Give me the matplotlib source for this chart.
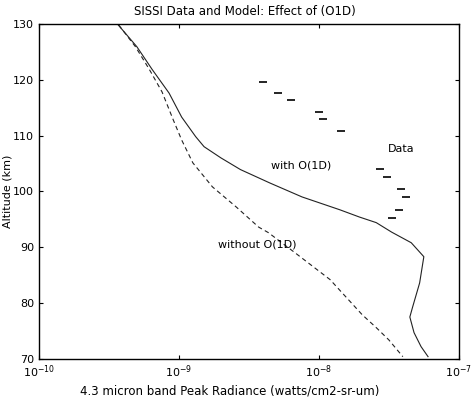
import numpy as np
import matplotlib
matplotlib.use("Agg")
import matplotlib.pyplot as plt

# model with O(1D): log10 radiance vs altitude (km)
with_log = [-9.44, -9.30, -9.19, -9.07, -8.98, -8.88, -8.82, -8.70, -8.56, -8.35,
            -8.12, -7.85, -7.71, -7.59, -7.48, -7.34, -7.25, -7.28, -7.33, -7.35,
            -7.32, -7.27, -7.22]
with_alt = [130.0, 125.9, 121.8, 117.6, 113.3, 109.8, 108.0, 106.0, 103.9, 101.5,
            99.0, 96.7, 95.4, 94.4, 92.7, 90.8, 88.3, 83.6, 79.3, 77.5,
            74.7, 72.2, 70.4]

# model without O(1D)
without_log = [-9.43, -9.31, -9.21, -9.12, -9.04, -8.98, -8.90, -8.76, -8.59, -8.43,
               -8.36, -8.17, -7.92, -7.69, -7.59, -7.50, -7.40]
without_alt = [129.8, 125.9, 121.8, 117.8, 112.8, 109.2, 105.1, 100.8, 97.2, 93.6,
               92.6, 89.0, 84.2, 77.9, 75.6, 73.4, 70.4]

# SISSI measurements
data_log = [-8.40, -8.29, -8.20, -8.00, -7.97, -7.84, -7.56, -7.51, -7.41, -7.38, -7.43, -7.48]
data_alt = [119.6, 117.6, 116.4, 114.2, 113.0, 110.8, 104.0, 102.6, 100.4, 99.0, 96.7, 95.3]

x_ticks = [1e-10, 1e-9, 1e-8, 1e-7]
x_ticklabels = ['$10^{-10}$', '$10^{-9}$', '$10^{-8}$', '$10^{-7}$']
y_ticks = [70, 80, 90, 100, 110, 120, 130]

plt.rcParams['font.family'] = ['DejaVu Sans']

fig = plt.figure(figsize=(4.74, 3.97), dpi=100)
ax = fig.add_axes([0.082, 0.096, 0.886, 0.844])

ax.plot(10 ** np.array(with_log), with_alt, color='#222222', lw=0.8)
ax.plot(10 ** np.array(without_log), without_alt, color='#222222', lw=0.8,
        linestyle=(0, (4, 3)))
ax.plot(10 ** np.array(data_log), data_alt, linestyle='none', marker='_',
        markersize=6, markeredgewidth=1.2, color='black')

ax.text(10 ** -8.13, 104.7, 'with O(1D)', fontsize=8, ha='center', va='center')
ax.text(10 ** -7.41, 107.6, 'Data', fontsize=8, ha='center', va='center')
ax.text(10 ** -8.44, 90.4, 'without O(1D)', fontsize=8, ha='center', va='center')

ax.set_xscale('log')
ax.set_xlim(1e-10, 1e-7)
ax.set_ylim(70, 130)
ax.set_xticks(x_ticks)
ax.set_xticklabels(x_ticklabels)
ax.set_yticks(y_ticks)
ax.minorticks_off()
ax.tick_params(direction='in', top=True, right=True, labelsize=8, length=3, width=0.8)
for s in ax.spines.values():
    s.set_linewidth(1.0)

ax.set_title('SISSI Data and Model: Effect of (O1D)', fontsize=8.5, pad=6, x=0.49)
ax.set_xlabel('4.3 micron band Peak Radiance (watts/cm2-sr-um)', fontsize=8.5)
ax.set_ylabel('Altitude (km)', fontsize=8)
ax.xaxis.set_label_coords(0.455, -0.075)
ax.yaxis.set_label_coords(-0.062, 0.5)

fig.savefig('out.png', dpi=100)
